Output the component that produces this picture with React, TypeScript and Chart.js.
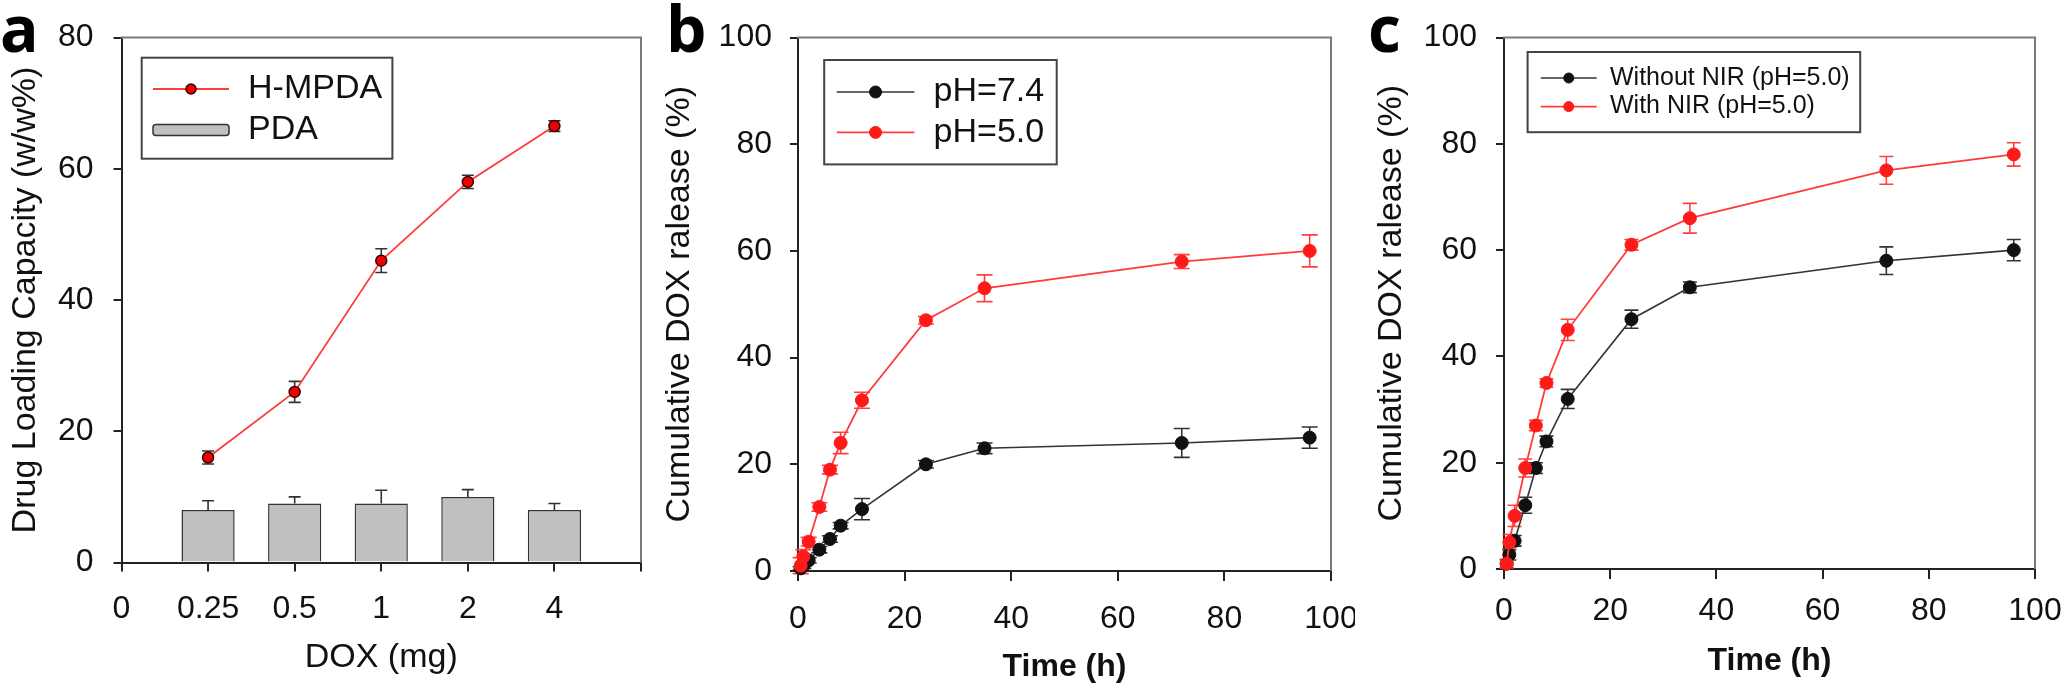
import React, { useEffect, useRef } from "react";
import { Chart, registerables } from "chart.js";

Chart.register(...registerables);

// ---------- data ----------
const doseLabels = ["0", "0.25", "0.5", "1", "2", "4", ""];
const hmpdaValues = [null, 16, 26, 46, 58, 66.5, null];
const hmpdaErrors = [0, 1, 1.6, 1.8, 1, 0.8, 0];
const pdaValues = [null, 8, 9, 9, 10, 8, null];
const pdaErrors = [0, 1.4, 1, 2, 1.1, 1, 0];

const timeHours = [0.5, 1, 2, 4, 6, 8, 12, 24, 35, 72, 96];
const ph74Release = [0.5, 1, 2, 4, 6, 8.5, 11.6, 20, 23, 24, 25];
const ph74Errors = [0.3, 0.5, 0.5, 0.6, 0.6, 0.6, 2, 0.7, 1, 2.7, 2];
const ph50Release = [1, 2.7, 5.5, 12, 19, 24, 32, 47, 53, 58, 60];
const ph50Errors = [1.5, 1.3, 0.8, 0.8, 0.8, 2, 1.5, 0.7, 2.5, 1.3, 3];

const noNirRelease = [1, 2.7, 5.3, 12, 19, 24, 32, 47, 53, 58, 60];
const noNirErrors = [0.8, 1, 1, 1.5, 1, 1, 1.8, 1.7, 1, 2.6, 2];
const withNirRelease = [1, 5, 10, 19, 27, 35, 45, 61, 66, 75, 78];
const withNirErrors = [0.8, 1.5, 2, 1.7, 1, 0.8, 2, 1, 2.8, 2.6, 2.2];

const releaseTicks = [0, 20, 40, 60, 80, 100];

// ---------- styling ----------
const FONT = "'Liberation Sans', Arial, sans-serif";
const TEXT = "#111";
const AXIS = "#222";
const RED = "#ff1a1a";
const RED_LINE = "#ff3b3b";
const BLACK = "#111";

const toXY = (xs: number[], ys: number[]) => xs.map((x, i) => ({ x, y: ys[i] }));

const errorBarPlugin = {
  id: "errorBars",
  beforeDatasetsDraw(chart: any) {
    const ctx = chart.ctx;
    chart.data.datasets.forEach((ds: any, di: number) => {
      if (!ds.errors) return;
      const meta = chart.getDatasetMeta(di);
      const yScale = chart.scales[meta.yAxisID];
      const cap = ds.capHalf ?? 6;
      ctx.save();
      ctx.strokeStyle = ds.errorColor ?? "#333";
      ctx.lineWidth = ds.errorWidth ?? 1.6;
      meta.data.forEach((el: any, i: number) => {
        const raw = ds.data[i];
        const v = raw == null ? null : typeof raw === "number" ? raw : raw.y;
        const e = ds.errors[i];
        if (v == null || !e) return;
        const x = el.x;
        const top = yScale.getPixelForValue(v + e);
        const bot = yScale.getPixelForValue(ds.errorUpperOnly ? v : v - e);
        ctx.beginPath();
        ctx.moveTo(x, top);
        ctx.lineTo(x, bot);
        ctx.moveTo(x - cap, top);
        ctx.lineTo(x + cap, top);
        if (!ds.errorUpperOnly) {
          ctx.moveTo(x - cap, bot);
          ctx.lineTo(x + cap, bot);
        }
        ctx.stroke();
      });
      ctx.restore();
    });
  },
};

const framePlugin = {
  id: "frame",
  beforeDatasetsDraw(chart: any) {
    const { ctx, chartArea } = chart;
    const { left, right, top, bottom } = chartArea;
    ctx.save();
    ctx.strokeStyle = "#7a7a7a";
    ctx.lineWidth = 2;
    ctx.beginPath();
    ctx.moveTo(left - 1, top);
    ctx.lineTo(right, top);
    ctx.lineTo(right, bottom);
    ctx.stroke();
    ctx.restore();
  },
};

const boxLegendPlugin = {
  id: "boxLegend",
  afterDraw(chart: any, _args: any, opts: any) {
    if (!opts || !opts.box) return;
    const ctx = chart.ctx;
    const [bx, by, bw, bh] = opts.box;
    ctx.save();
    ctx.fillStyle = "#fff";
    ctx.fillRect(bx, by, bw, bh);
    ctx.strokeStyle = "#444";
    ctx.lineWidth = 2;
    ctx.strokeRect(bx, by, bw, bh);
    ctx.font = `${opts.fontSize}px ${FONT}`;
    ctx.textBaseline = "middle";
    ctx.textAlign = "left";
    const order: number[] = opts.order;
    order.forEach((di: number, row: number) => {
      const ds = chart.data.datasets[di];
      const y = opts.rowY[row];
      const [x0, x1] = opts.sample;
      if (ds.type === "bar") {
        const h = opts.barH ?? 11;
        ctx.fillStyle = ds.backgroundColor;
        ctx.strokeStyle = ds.borderColor;
        ctx.lineWidth = 1.5;
        ctx.beginPath();
        const r = 3;
        const yt = y - h / 2;
        ctx.moveTo(x0 + r, yt);
        ctx.lineTo(x1 - r, yt);
        ctx.quadraticCurveTo(x1, yt, x1, yt + r);
        ctx.lineTo(x1, yt + h - r);
        ctx.quadraticCurveTo(x1, yt + h, x1 - r, yt + h);
        ctx.lineTo(x0 + r, yt + h);
        ctx.quadraticCurveTo(x0, yt + h, x0, yt + h - r);
        ctx.lineTo(x0, yt + r);
        ctx.quadraticCurveTo(x0, yt, x0 + r, yt);
        ctx.closePath();
        ctx.fill();
        ctx.stroke();
      } else {
        ctx.strokeStyle = ds.borderColor;
        ctx.lineWidth = ds.borderWidth ?? 1.5;
        ctx.beginPath();
        ctx.moveTo(x0, y);
        ctx.lineTo(x1, y);
        ctx.stroke();
        ctx.beginPath();
        ctx.arc((x0 + x1) / 2, y, opts.pointR ?? 5, 0, Math.PI * 2);
        ctx.fillStyle = ds.pointBackgroundColor;
        ctx.fill();
        ctx.lineWidth = ds.pointBorderWidth ?? 1;
        ctx.strokeStyle = ds.pointBorderColor;
        ctx.stroke();
      }
      ctx.fillStyle = TEXT;
      ctx.fillText(ds.label, opts.textX, y);
    });
    ctx.restore();
  },
};

Chart.register(errorBarPlugin as any, framePlugin as any, boxLegendPlugin as any);

function axisCommon(tickLength: number, tickPad: number, tickSize: number) {
  return {
    grid: {
      display: true,
      drawOnChartArea: false,
      drawTicks: true,
      tickLength,
      tickColor: AXIS,
      lineWidth: 2,
      offset: false,
    },
    border: { display: true, color: AXIS, width: 2 },
    ticks: {
      color: TEXT,
      font: { family: FONT, size: tickSize },
      padding: tickPad,
      maxRotation: 0,
      minRotation: 0,
      autoSkip: false,
    },
  };
}

function fixX(h: number) {
  return (s: any) => {
    s.height = h;
    s.paddingLeft = 0;
    s.paddingRight = 0;
    s.paddingTop = 0;
    s.paddingBottom = 0;
  };
}
function fixY(w: number) {
  return (s: any) => {
    s.width = w;
    s.paddingLeft = 0;
    s.paddingRight = 0;
    s.paddingTop = 0;
    s.paddingBottom = 0;
  };
}

// ---------- panel a ----------
function makeA(canvas: HTMLCanvasElement) {
  const xc = axisCommon(9, 18.3, 32);
  const yc = axisCommon(8, 20, 32);
  return new Chart(canvas, {
    type: "bar",
    data: {
      labels: doseLabels,
      datasets: [
        {
          type: "line",
          label: "H-MPDA",
          data: hmpdaValues,
          borderColor: RED_LINE,
          borderWidth: 1.8,
          pointRadius: 5.5,
          pointBackgroundColor: "#ee0000",
          pointBorderColor: "#3a0000",
          pointBorderWidth: 1.5,
          order: 0,
          clip: false,
          errors: hmpdaErrors,
          errorColor: "#333",
          capHalf: 6,
        } as any,
        {
          type: "bar",
          label: "PDA",
          data: pdaValues,
          backgroundColor: "#c0c0c0",
          borderColor: "#333",
          borderWidth: 1.5,
          barPercentage: 0.614,
          categoryPercentage: 1,
          order: 1,
          errors: pdaErrors,
          errorUpperOnly: true,
          errorColor: "#333",
          capHalf: 6,
        } as any,
      ],
    },
    options: {
      animation: false,
      responsive: false,
      maintainAspectRatio: false,
      layout: { padding: { left: 0, top: 37.5, right: 49, bottom: 0 } },
      plugins: {
        legend: { display: false },
        tooltip: { enabled: false },
        boxLegend: {
          box: [141.7, 57.7, 250.7, 101],
          fontSize: 34,
          order: [0, 1],
          rowY: [89, 130],
          sample: [153, 229],
          textX: 248,
          pointR: 5,
          barH: 11,
        },
      } as any,
      scales: {
        x: {
          type: "category",
          offset: false,
          ...xc,
          title: {
            display: true,
            text: "DOX (mg)",
            color: TEXT,
            font: { family: FONT, size: 34 },
            padding: { top: 0, bottom: 16.6 },
          },
          afterFit: fixX(132.5),
        },
        y: {
          type: "linear",
          min: 0,
          max: 80,
          ...yc,
          ticks: { ...yc.ticks, stepSize: 20 },
          title: {
            display: true,
            text: "Drug Loading Capacity (w/w%)",
            color: TEXT,
            font: { family: FONT, size: 34 },
            padding: { top: 5, bottom: 0 },
          },
          afterFit: fixY(121.5),
        },
      } as any,
    },
  });
}

// ---------- panels b & c ----------
function makeRelease(
  canvas: HTMLCanvasElement,
  cfg: {
    labels: [string, string];
    series: [number[], number[]];
    errors: [number[], number[]];
    padRight: number;
    yWidth: number;
    xHeight: number;
    xTickPad: number;
    yTickPad: number;
    xTitlePad: number;
    yTitlePad: number;
    legend: any;
    capHalf: number;
  }
) {
  const xc = axisCommon(10, cfg.xTickPad, 32);
  const yc = axisCommon(8, cfg.yTickPad, 32);
  const mk = (i: number, color: string, line: string, lw: number, order: number) => ({
    type: "line",
    label: cfg.labels[i],
    data: toXY(timeHours, cfg.series[i]),
    borderColor: line,
    borderWidth: lw,
    pointRadius: 6.5,
    pointBackgroundColor: color,
    pointBorderColor: color,
    pointBorderWidth: 1,
    order,
    clip: false,
    errors: cfg.errors[i],
    errorColor: i === 0 ? "#333" : "#ff4040",
    capHalf: cfg.capHalf,
  });
  return new Chart(canvas, {
    type: "line",
    data: {
      datasets: [mk(0, BLACK, "#333", 1.6, 1) as any, mk(1, RED, RED_LINE, 1.8, 0) as any],
    },
    options: {
      animation: false,
      responsive: false,
      maintainAspectRatio: false,
      layout: { padding: { left: 0, top: 37.5, right: cfg.padRight, bottom: 0 } },
      plugins: {
        legend: { display: false },
        tooltip: { enabled: false },
        boxLegend: cfg.legend,
      } as any,
      scales: {
        x: {
          type: "linear",
          min: 0,
          max: 100,
          ...xc,
          ticks: { ...xc.ticks, stepSize: 20 },
          afterBuildTicks: (s: any) => {
            s.ticks = releaseTicks.map((v) => ({ value: v }));
          },
          title: {
            display: true,
            text: "Time (h)",
            color: TEXT,
            font: { family: FONT, size: 32, weight: "bold" },
            padding: { top: 0, bottom: cfg.xTitlePad },
          },
          afterFit: fixX(cfg.xHeight),
        },
        y: {
          type: "linear",
          min: 0,
          max: 100,
          ...yc,
          ticks: { ...yc.ticks, stepSize: 20 },
          afterBuildTicks: (s: any) => {
            s.ticks = releaseTicks.map((v) => ({ value: v }));
          },
          title: {
            display: true,
            text: "Cumulative DOX ralease (%)",
            color: TEXT,
            font: { family: FONT, size: 34 },
            padding: { top: cfg.yTitlePad, bottom: 0 },
          },
          afterFit: fixY(cfg.yWidth),
        },
      } as any,
    },
  });
}

const PANEL_B_LEFT = 655;
const PANEL_C_LEFT = 1365;

function ChartCanvas({ left, width, build }: { left: number; width: number; build: (c: HTMLCanvasElement) => Chart }) {
  const ref = useRef<HTMLCanvasElement | null>(null);
  useEffect(() => {
    if (!ref.current) return;
    const chart = build(ref.current);
    return () => chart.destroy();
  }, []);
  return (
    <canvas
      ref={ref}
      width={width}
      height={695}
      style={{ position: "absolute", left, top: 0, width, height: 695 }}
    />
  );
}

const labelStyle: React.CSSProperties = {
  position: "absolute",
  fontFamily: "'Open Sans', sans-serif",
  fontWeight: 700,
  fontSize: 64,
  lineHeight: "64px",
  color: "#000",
  top: -4,
};

export default function App() {
  return (
    <div
      style={{
        position: "fixed",
        left: 0,
        top: 0,
        width: 2070,
        height: 695,
        background: "#fff",
        overflow: "hidden",
      }}
    >
      <ChartCanvas left={0} width={690} build={makeA} />
      <ChartCanvas
        left={PANEL_B_LEFT}
        width={700}
        build={(c) =>
          makeRelease(c, {
            labels: ["pH=7.4", "pH=5.0"],
            series: [ph74Release, ph50Release],
            errors: [ph74Errors, ph50Errors],
            padRight: 24,
            yWidth: 143,
            xHeight: 124,
            xTickPad: 18.8,
            yTickPad: 18,
            xTitlePad: 8.8,
            yTitlePad: 4.6,
            capHalf: 8,
            legend: {
              box: [824.2 - PANEL_B_LEFT, 60, 232.5, 104.4],
              fontSize: 34,
              order: [0, 1],
              rowY: [92, 132.4],
              sample: [836.7 - PANEL_B_LEFT, 914.4 - PANEL_B_LEFT],
              textX: 933.6 - PANEL_B_LEFT,
              pointR: 6,
            },
          })
        }
      />
      <ChartCanvas
        left={PANEL_C_LEFT}
        width={705}
        build={(c) =>
          makeRelease(c, {
            labels: ["Without NIR (pH=5.0)", "With NIR (pH=5.0)"],
            series: [noNirRelease, withNirRelease],
            errors: [noNirErrors, withNirErrors],
            padRight: 35,
            yWidth: 139,
            xHeight: 126,
            xTickPad: 12.8,
            yTickPad: 19,
            xTitlePad: 14.8,
            yTitlePad: 6,
            capHalf: 7,
            legend: {
              box: [1527.6 - PANEL_C_LEFT, 52, 332.6, 80.2],
              fontSize: 25,
              order: [0, 1],
              rowY: [78, 106.6],
              sample: [1540.8 - PANEL_C_LEFT, 1596.7 - PANEL_C_LEFT],
              textX: 1610 - PANEL_C_LEFT,
              pointR: 5,
            },
          })
        }
      />
      <span style={{ ...labelStyle, left: 0 }}>a</span>
      <span style={{ ...labelStyle, left: 666 }}>b</span>
      <span style={{ ...labelStyle, left: 1368 }}>c</span>
    </div>
  );
}
